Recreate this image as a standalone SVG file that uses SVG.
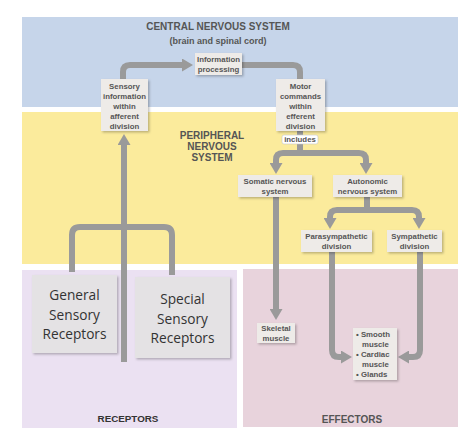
<svg xmlns="http://www.w3.org/2000/svg" width="474" height="440" viewBox="0 0 474 440">
<defs>
<filter id="sh" x="-20%" y="-20%" width="150%" height="150%">
<feDropShadow dx="1.5" dy="1.5" stdDeviation="1" flood-color="#000" flood-opacity="0.25"/>
</filter>
<marker id="ah" viewBox="0 0 11 13" refX="1" refY="6.5" markerWidth="11" markerHeight="13" markerUnits="userSpaceOnUse" orient="auto">
<path d="M0,0 L11,6.5 L0,13 z" fill="#9a9a9a"/>
</marker>
<style>
.box{fill:#eeebe8;filter:url(#sh)}
.rbox{fill:#e4e2e4;filter:url(#sh)}
.lb{font-family:"Liberation Sans",Arial,sans-serif;font-weight:bold;font-size:7.8px;fill:#555;text-anchor:middle}
.hd{font-family:"Liberation Sans",Arial,sans-serif;font-weight:bold;font-size:10px;fill:#555;text-anchor:middle}
.rc{font-family:"Open Sans",sans-serif;font-size:13.7px;fill:#333;text-anchor:middle}
.cn{fill:none;stroke:#9a9a9a;stroke-width:6}
</style>
</defs>
<rect width="474" height="440" fill="#fff"/>
<g id="regions">
<rect x="22" y="17" width="436" height="90" fill="#c6d5ea"/>
<rect x="22" y="112" width="436" height="152" fill="#fbeb9c"/>
<rect x="22" y="270" width="215" height="158" fill="#ebe1f2"/>
<rect x="243" y="269" width="215" height="158" fill="#e8d3dc"/>
</g>
<g id="titles">
<text class="hd" x="218" y="30">CENTRAL NERVOUS SYSTEM</text>
<text class="hd" x="218" y="44" style="font-size:9px">(brain and spinal cord)</text>
<text class="hd" x="212" y="139">PERIPHERAL</text>
<text class="hd" x="212" y="150">NERVOUS</text>
<text class="hd" x="212" y="161">SYSTEM</text>
<text class="hd" x="128" y="422" style="fill:#333;font-size:9.8px">RECEPTORS</text>
<text class="hd" x="352" y="423">EFFECTORS</text>
</g>
<g id="connectors">
<path class="cn" d="M72,272 V235 Q72,227 80,227 H164 Q172,227 172,235 V275"/>
<path class="cn" d="M124,362 V144" marker-end="url(#ah)"/>
<path class="cn" d="M123,79 V72 Q123,65 130,65 H183" marker-end="url(#ah)"/>
<path class="cn" d="M242,65 H293 Q300,65 300,72 V79"/>
<path class="cn" d="M300,131 V136"/>
<path class="cn" d="M300,143 V153"/>
<path class="cn" d="M300,153 H283 Q276,153 276,160 V164" marker-end="url(#ah)"/>
<path class="cn" d="M300,153 H359 Q366,153 366,160 V164" marker-end="url(#ah)"/>
<path class="cn" d="M367,197 V210"/>
<path class="cn" d="M367,210 H337 Q330,210 330,217 V219" marker-end="url(#ah)"/>
<path class="cn" d="M367,210 H412 Q419,210 419,217 V219" marker-end="url(#ah)"/>
<path class="cn" d="M276,197 V310" marker-end="url(#ah)"/>
<path class="cn" d="M332,252 V350 Q332,357 339,357 H342" marker-end="url(#ah)"/>
<path class="cn" d="M420,252 V350 Q420,357 413,357 H408" marker-end="url(#ah)"/>
</g>
<g id="info">
<rect class="box" x="195" y="53" width="47" height="22"/>
<text class="lb" x="218.5" y="62">Information</text>
<text class="lb" x="218.5" y="72">processing</text>
</g>
<g id="sensory">
<rect class="box" x="101" y="79" width="47" height="52"/>
<text class="lb" x="124.5" y="89">Sensory</text>
<text class="lb" x="124.5" y="99">information</text>
<text class="lb" x="124.5" y="109">within</text>
<text class="lb" x="124.5" y="119">afferent</text>
<text class="lb" x="124.5" y="129">division</text>
</g>
<g id="motor">
<rect class="box" x="276" y="79" width="49" height="52"/>
<text class="lb" x="300.5" y="89">Motor</text>
<text class="lb" x="300.5" y="99">commands</text>
<text class="lb" x="300.5" y="109">within</text>
<text class="lb" x="300.5" y="119">efferent</text>
<text class="lb" x="300.5" y="129">division</text>
</g>
<g id="includes">
<rect x="282" y="135" width="36" height="9" rx="2" fill="#fff" stroke="#c8c8c8" stroke-width="0.6"/>
<text class="lb" x="300" y="142">includes</text>
</g>
<g id="somatic">
<rect class="box" x="238" y="175" width="74" height="22"/>
<text class="lb" x="275" y="184">Somatic nervous</text>
<text class="lb" x="275" y="194">system</text>
</g>
<g id="autonomic">
<rect class="box" x="333" y="175" width="69" height="22"/>
<text class="lb" x="367.5" y="184">Autonomic</text>
<text class="lb" x="367.5" y="194">nervous system</text>
</g>
<g id="parasympathetic">
<rect class="box" x="301" y="230" width="71" height="22"/>
<text class="lb" x="336.5" y="239">Parasympathetic</text>
<text class="lb" x="336.5" y="249">division</text>
</g>
<g id="sympathetic">
<rect class="box" x="387" y="230" width="55" height="22"/>
<text class="lb" x="414.5" y="239">Sympathetic</text>
<text class="lb" x="414.5" y="249">division</text>
</g>
<g id="general">
<rect class="rbox" x="32" y="275" width="85" height="78"/>
<text class="rc" x="74.5" y="300">General</text>
<text class="rc" x="74.5" y="319.5">Sensory</text>
<text class="rc" x="74.5" y="339">Receptors</text>
</g>
<g id="special">
<rect class="rbox" x="135" y="277" width="95" height="81"/>
<text class="rc" x="182.5" y="304">Special</text>
<text class="rc" x="182.5" y="323.5">Sensory</text>
<text class="rc" x="182.5" y="343">Receptors</text>
</g>
<g id="skeletal">
<rect class="box" x="257" y="323" width="38" height="20"/>
<text class="lb" x="276" y="331">Skeletal</text>
<text class="lb" x="276" y="341">muscle</text>
</g>
<g id="effector-list">
<rect class="box" x="353" y="328" width="44" height="52"/>
<text class="lb" x="356" y="337" style="text-anchor:start">• Smooth</text>
<text class="lb" x="362" y="347" style="text-anchor:start">muscle</text>
<text class="lb" x="356" y="357" style="text-anchor:start">• Cardiac</text>
<text class="lb" x="362" y="367" style="text-anchor:start">muscle</text>
<text class="lb" x="356" y="377" style="text-anchor:start">• Glands</text>
</g>
</svg>
